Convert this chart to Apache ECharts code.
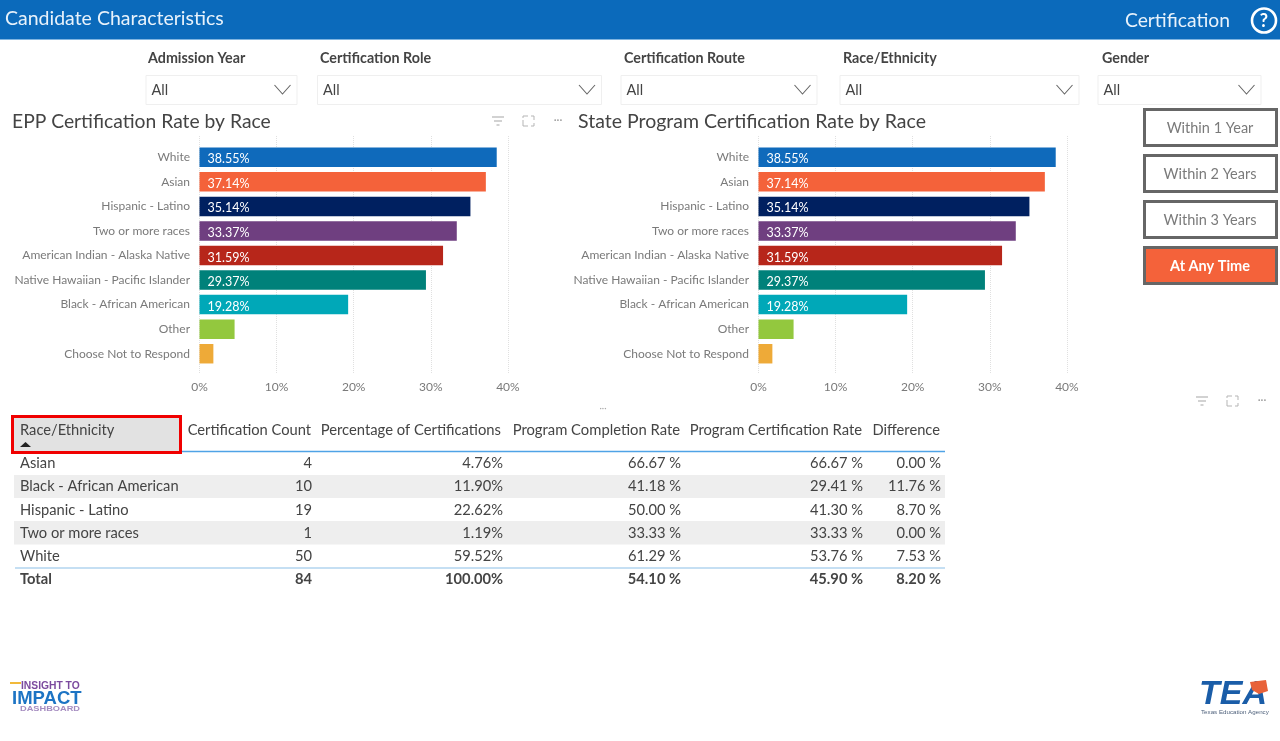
<!DOCTYPE html>
<html>
<head>
<meta charset="utf-8">
<title>Candidate Characteristics</title>
<script src="https://cdn.jsdelivr.net/npm/echarts@6/dist/echarts.min.js"></script>
<style>
html,body{margin:0;padding:0;background:#fff;overflow:hidden}
#dash{width:1280px;height:741px}
</style>
</head>
<body>
<div id="dash"></div>
<script>
// Bar chart data
const raceCategories = ['White','Asian','Hispanic - Latino','Two or more races','American Indian - Alaska Native','Native Hawaiian - Pacific Islander','Black - African American','Other','Choose Not to Respond'];
const eppRates = [38.55,37.14,35.14,33.37,31.59,29.37,19.28,4.55,1.8];
const stateRates = [38.55,37.14,35.14,33.37,31.59,29.37,19.28,4.55,1.8];
const hiddenLabels = ['Other','Choose Not to Respond'];
const raceColors = ['#0f6abb','#f4623a','#002060','#6f3f80','#b7261a','#00817a','#00a8b8','#93c83e','#eeaa38'];
const axisTicks = [0,10,20,30,40];

// Table data
const tableHeaders = ['Race/Ethnicity','Certification Count','Percentage of Certifications','Program Completion Rate','Program Certification Rate','Difference'];
const tableRaces = ['Asian','Black - African American','Hispanic - Latino','Two or more races','White','Total'];
const certCounts = ['4','10','19','1','50','84'];
const certShares = ['4.76%','11.90%','22.62%','1.19%','59.52%','100.00%'];
const completionRates = ['66.67 %','41.18 %','50.00 %','33.33 %','61.29 %','54.10 %'];
const certificationRates = ['66.67 %','29.41 %','41.30 %','33.33 %','53.76 %','45.90 %'];
const differences = ['0.00 %','11.76 %','8.70 %','0.00 %','7.53 %','8.20 %'];

// Slicers and buttons
const slicerNames = ['Admission Year','Certification Role','Certification Route','Race/Ethnicity','Gender'];
const timeButtons = ['Within 1 Year','Within 2 Years','Within 3 Years','At Any Time'];

const FONT = 'Lato';
const INK = '#444';
const MUTED = '#7a7a7a';

const g = [];
const text = (x, y, t, o = {}) => g.push({
  type: 'text', x, y, silent: true, z: o.z || 10, scaleX: o.scaleX || 1,
  style: { text: t, fill: o.fill || INK, font: `${o.weight || 'normal'} ${o.size || 14.7}px ${o.family || FONT}`, textAlign: o.align || 'left', textVerticalAlign: 'middle' }
});
const rect = (x, y, width, height, style, z = 1) => g.push({ type: 'rect', silent: true, z, shape: { x, y, width, height }, style });
const line = (x1, y1, x2, y2, stroke, lineWidth = 1, z = 5) => g.push({ type: 'line', silent: true, z, shape: { x1, y1, x2, y2 }, style: { stroke, lineWidth } });
const path = (points, stroke, lineWidth = 1) => g.push({ type: 'polyline', silent: true, z: 5, shape: { points }, style: { stroke, lineWidth, fill: null } });

// Title band
rect(0, 0, 1280, 39, { fill: '#0b6abb' });
line(0, 39.5, 1280, 39.5, '#7fb4e0', 1);
text(5, 18.5, 'Candidate Characteristics', { fill: '#e8f2fb', size: 19.5 });
text(1230, 20.5, 'Certification', { fill: '#e8f2fb', size: 19.3, align: 'right' });
g.push({ type: 'circle', silent: true, z: 6, shape: { cx: 1264, cy: 20.5, r: 12 }, style: { stroke: '#fff', lineWidth: 2.6, fill: null } });
text(1264, 21, '?', { fill: '#fff', size: 18, weight: 'bold', align: 'center' });

// Slicers
const slicerBoxes = [[145.5,151],[317,284],[620.5,196],[839.5,239],[1097.5,163]];
const slicerLabelX = [148,320,624,843,1102];
slicerNames.forEach((name, i) => {
  const [x, w] = slicerBoxes[i];
  text(slicerLabelX[i], 58, name, { weight: 'bold', size: 14.3 });
  rect(x + .5, 75.5, w, 29, { fill: '#fff', stroke: '#efefef', lineWidth: 1 });
  text(x + 6, 90.5, 'All', { size: 14.5 });
  path([[x + w - 22, 85], [x + w - 14, 94], [x + w - 6, 85]], '#666', 1.1);
});

// Time window buttons
timeButtons.forEach((label, i) => {
  const active = i === timeButtons.length - 1;
  const y = [108, 154, 200, 246][i];
  rect(1144.5, y + 1.5, 132, 36, { fill: active ? '#f4623a' : '#fff', stroke: '#666', lineWidth: 3 });
  text(1210, y + 20, label, { fill: active ? '#fff' : MUTED, size: 14.5, align: 'center', weight: active ? 'bold' : 'normal' });
});

// Chart titles and visual header icons
text(12, 122, 'EPP Certification Rate by Race', { size: 19.3 });
text(578, 122, 'State Program Certification Rate by Race', { size: 19.5 });
const headerIcons = (x, y) => {
  line(x - 6, y - 4, x + 6, y - 4, '#a5a5a5');
  line(x - 4, y, x + 4, y, '#a5a5a5');
  line(x - 1.5, y + 4, x + 1.5, y + 4, '#a5a5a5');
  path([[x + 25, y - 1], [x + 25, y + 5], [x + 30, y + 5]], '#b5b5b5');
  path([[x + 25, y - 3], [x + 25, y - 5], [x + 30, y - 5]], '#b5b5b5');
  path([[x + 33, y - 5], [x + 36, y - 5], [x + 36, y - 1]], '#b5b5b5');
  path([[x + 36, y + 2], [x + 36, y + 5], [x + 33, y + 5]], '#b5b5b5');
  text(x + 60, y - 1, '···', { fill: '#999', size: 11, align: 'center' });
};
headerIcons(498, 121);
headerIcons(1202, 401);
text(603, 408, '···', { fill: '#aaa', size: 9, align: 'center' });

// Table
const rowY = [463.5, 486.5, 510, 533.5, 556, 579.5];
const columns = [certCounts, certShares, completionRates, certificationRates, differences];
const columnRight = [312, 503, 681, 863, 941];
const headerRight = [311, 501, 680, 862, 940];
rect(14, 475, 931, 23, { fill: '#eeeeee' });
rect(14, 521, 931, 23.5, { fill: '#eeeeee' });
rect(12.5, 416.5, 168, 36, { fill: '#e2e2e2', stroke: '#f00000', lineWidth: 3 }, 4);
g.push({ type: 'polygon', silent: true, z: 6, shape: { points: [[20, 447], [31, 447], [25.5, 442]] }, style: { fill: '#222' } });
line(182, 451.5, 945, 451.5, '#4fa3e6', 1.4, 7);
line(15, 568, 945, 568, '#8cc0e8', 1.2, 3);
text(20, 430, tableHeaders[0], { z: 8 });
tableHeaders.slice(1).forEach((h, i) => text(headerRight[i], 430, h, { align: 'right', size: i > 0 && i < 4 ? 14.8 : 14.7 }));
tableRaces.forEach((race, r) => {
  const total = r === tableRaces.length - 1;
  const weight = total ? 'bold' : 'normal';
  text(20, rowY[r], race, { weight });
  columns.forEach((col, c) => text(columnRight[c], rowY[r], col[r], { weight, align: 'right' }));
});

// Logos
text(21, 686, 'INSIGHT TO', { fill: '#7b4a9e', size: 10.3, weight: 'bold', family: 'Liberation Sans' });
text(12, 698.5, 'IMPACT', { fill: '#1d74c4', size: 18.5, weight: 'bold', family: 'Liberation Sans' });
text(20, 709, 'DASHBOARD', { fill: '#a58cc0', size: 6.5, weight: 'bold', family: 'Liberation Sans', scaleX: 1.42 });
rect(10, 682, 11, 2, { fill: '#f1b93a' });
text(1199, 695, 'TEA', { fill: '#1a5da8', size: 34, weight: 'bold italic', family: 'Liberation Sans' });
g.push({ type: 'polygon', silent: true, z: 12, shape: { points: [[1250, 682], [1266, 680], [1268, 691], [1259, 694], [1252, 690]] }, style: { fill: '#e8623a' } });
text(1201, 712, 'Texas Education Agency', { fill: '#4c5f7a', size: 6.2, family: 'Liberation Sans' });

// One bar panel: an unlabelled grid carrying the taller dotted guides, and the bars on top
const panelLefts = [199.5, 758.5];
const valueAxis = (gridIndex, labels) => ({
  type: 'value', gridIndex, min: axisTicks[0], max: axisTicks[axisTicks.length - 1], interval: axisTicks[1] - axisTicks[0],
  axisLine: { show: false }, axisTick: { show: false },
  splitLine: { show: !labels, lineStyle: { color: '#e0e0e0', type: 'dotted', width: 1 } },
  axisLabel: { show: labels, formatter: '{value}%', color: MUTED, fontFamily: FONT, fontSize: 12, margin: 15 }
});
const option = {
  animation: false,
  backgroundColor: '#fff',
  graphic: { elements: g },
  grid: [
    { left: panelLefts[0], width: 308.4, top: 145, height: 221 },
    { left: panelLefts[1], width: 308.4, top: 145, height: 221 },
    { left: panelLefts[0], width: 308.4, top: 136, height: 237 },
    { left: panelLefts[1], width: 308.4, top: 136, height: 237 }
  ],
  xAxis: [valueAxis(0, true), valueAxis(1, true), valueAxis(2, false), valueAxis(3, false)],
  yAxis: [0, 1, 2, 3].map(i => ({
    type: 'category', gridIndex: i, inverse: true, data: raceCategories, show: i < 2,
    axisLine: { show: false }, axisTick: { show: false },
    axisLabel: { color: MUTED, fontFamily: FONT, fontSize: 12, margin: 9.5, interval: 0, padding: [1, 0, 0, 0] }
  })),
  series: [eppRates, stateRates].map((values, i) => ({
    type: 'bar', xAxisIndex: i, yAxisIndex: i, barWidth: 19.5, z: 3,
    data: values.map((value, k) => ({
      value,
      itemStyle: { color: raceColors[k] },
      label: { show: !hiddenLabels.includes(raceCategories[k]) }
    })),
    label: {
      position: 'insideLeft', distance: 8, offset: [0, 2], color: '#fff', fontFamily: FONT, fontSize: 12.5,
      formatter: p => p.value.toFixed(2) + '%'
    }
  }))
};
echarts.init(document.getElementById('dash'), null, { renderer: 'canvas' }).setOption(option);
</script>
</body>
</html>
